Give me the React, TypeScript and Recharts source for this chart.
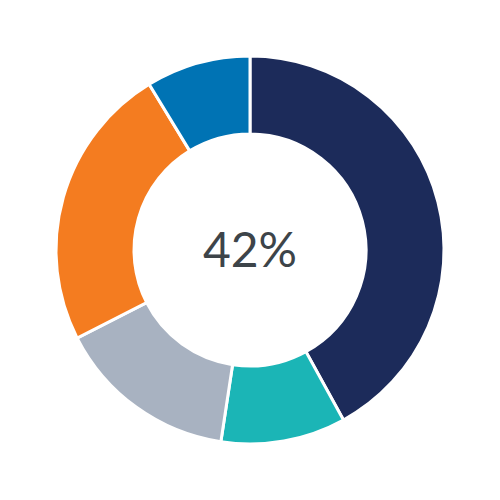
import { Cell, Pie, PieChart } from "recharts";

const categories = ["A", "B", "C", "D", "E"];
const values = [42, 10.4, 15.1, 23.8, 8.7];
const SLICE_COLORS = ["#1c2b5a", "#1bb5b6", "#a8b2c1", "#f47c20", "#0073b4"];
const centerLabel = "42%";

const data = categories.map((name, i) => ({ name, value: values[i] }));

export default function App() {
  return (
    <div style={{ position: "absolute", left: 0, top: 0, width: 500, height: 500, background: "#fff" }}>
      <PieChart width={500} height={500} margin={{ top: 0, right: 0, bottom: 0, left: 0 }}>
        <Pie
          data={data}
          dataKey="value"
          nameKey="name"
          cx={250}
          cy={250}
          innerRadius={116}
          outerRadius={194}
          startAngle={90}
          endAngle={-270}
          stroke="#ffffff"
          strokeWidth={3}
          isAnimationActive={false}
        >
          {data.map((d, i) => (
            <Cell key={d.name} fill={SLICE_COLORS[i]} />
          ))}
        </Pie>
        <text
          x={250}
          y={248}
          textAnchor="middle"
          dominantBaseline="central"
          fontFamily="Lato, 'Open Sans', sans-serif"
          fontWeight={400}
          fontSize={48}
          fill="#3d4449"
        >
          {centerLabel}
        </text>
      </PieChart>
    </div>
  );
}
